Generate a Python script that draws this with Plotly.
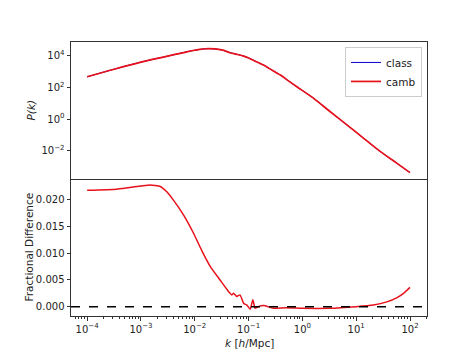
import plotly.graph_objects as go
from plotly.subplots import make_subplots

# ---- data ----
k_pk = [1e-4, 3.16e-4, 1e-3, 3.16e-3, 7.1e-3, 1e-2, 1.78e-2, 3.16e-2, 4.57e-2,
        6.3e-2, 8.1e-2, 0.1, 0.141, 0.19, 0.25, 0.39, 0.56, 0.79, 1.62, 3.3,
        6.8, 13.8, 28.2, 57.5, 100.0]
pk_class = [468, 1413, 3981, 9550, 17800, 22400, 28200, 23400, 15500,
            12000, 9550, 7240, 4170, 2570, 1480, 603, 251, 110, 20.4, 2.88,
            0.417, 0.0603, 0.0087, 0.00158, 0.00041]
pk_camb = list(pk_class)

k_diff = [1e-4, 3.55e-4, 1e-3, 1.48e-3, 2.29e-3, 3.02e-3, 3.98e-3, 6.17e-3,
          9.55e-3, 1.35e-2, 1.95e-2, 2.95e-2, 4.27e-2, 4.90e-2, 5.25e-2,
          6.03e-2, 6.92e-2, 8.13e-2, 9.33e-2, 0.107, 0.120, 0.132, 0.151,
          0.191, 0.288, 0.5, 1.0, 3.16, 10.0, 20.9, 37.2, 57.5, 75.9, 100.0]
frac_diff = [0.0218, 0.0220, 0.0226, 0.0228, 0.0225, 0.0215, 0.0200, 0.0172,
             0.0137, 0.0105, 0.0075, 0.0050, 0.0028, 0.0022, 0.0025,
             0.0019, 0.0022, 0.0006, 0.0003, -0.0005, 0.0013, -0.0003, 0.0,
             0.0002, -0.0003, -0.0002, -0.0003, -0.0003, 0.0, 0.0003, 0.0009,
             0.0017, 0.0025, 0.0036]

x_tickvals = [1e-4, 1e-3, 1e-2, 1e-1, 1e0, 1e1, 1e2]
x_ticktext = ["10<sup>−4</sup>", "10<sup>−3</sup>", "10<sup>−2</sup>", "10<sup>−1</sup>",
              "10<sup>0</sup>", "10<sup>1</sup>", "10<sup>2</sup>"]
y_tickvals = [1e-2, 1e0, 1e2, 1e4]
y_ticktext = ["10<sup>−2</sup>", "10<sup>0</sup>", "10<sup>2</sup>", "10<sup>4</sup>"]
diff_tickvals = [0.0, 0.005, 0.010, 0.015, 0.020]

minor_x = [m * 10.0 ** e for e in range(-5, 3) for m in range(2, 10)]

FONT = "DejaVu Sans"
TXT = "#222222"

fig = make_subplots(rows=2, cols=1, shared_xaxes=True, vertical_spacing=0)

fig.add_trace(go.Scatter(x=k_pk, y=pk_class, mode="lines", name="class",
                         line=dict(color="#0000cc", width=1.0, shape="spline", smoothing=0.9)),
              row=1, col=1)
fig.add_trace(go.Scatter(x=k_pk, y=pk_camb, mode="lines", name="camb",
                         line=dict(color="#e8101a", width=1.7, shape="spline", smoothing=0.9)),
              row=1, col=1)
fig.add_trace(go.Scatter(x=k_diff, y=frac_diff, mode="lines", showlegend=False,
                         line=dict(color="#e8101a", width=1.5, shape="spline", smoothing=0.5)),
              row=2, col=1)

fig.add_shape(type="line", xref="x2 domain", yref="y2", x0=0, x1=1, y0=0, y1=0,
              line=dict(color="black", width=1.5, dash="dash"))

axis_common = dict(showline=True, linecolor="#333333", linewidth=1,
                   showgrid=False, zeroline=False, ticks="outside", ticklen=3.5,
                   tickwidth=1, tickcolor="#333333", automargin=False,
                   tickfont=dict(family=FONT, size=10, color=TXT))

fig.update_xaxes(type="log", range=[-4.30, 2.316], **axis_common)
fig.update_xaxes(row=1, col=1, showticklabels=False, ticks="", mirror=True)
fig.update_xaxes(row=2, col=1, mirror=False, tickvals=x_tickvals, ticktext=x_ticktext,
                 minor=dict(tickvals=minor_x, ticks="outside", ticklen=2,
                            tickwidth=0.8, tickcolor="#333333"))

fig.update_yaxes(row=1, col=1, type="log", range=[-3.79, 4.87], mirror=True,
                 tickvals=y_tickvals, ticktext=y_ticktext, **axis_common)
fig.update_yaxes(row=2, col=1, range=[-0.00175, 0.0239], mirror=True,
                 tickvals=diff_tickvals, tickformat=".3f", **axis_common)

title_font = dict(family=FONT, size=10.5, color=TXT)
fig.add_annotation(text="<i>P(k)</i>", xref="paper", yref="paper", x=0, y=0.75,
                   xanchor="center", yanchor="middle", xshift=-41, textangle=-90,
                   showarrow=False, font=title_font)
fig.add_annotation(text="Fractional Difference", xref="paper", yref="paper", x=0, y=0.25,
                   xanchor="center", yanchor="middle", xshift=-43, textangle=-90,
                   showarrow=False, font=title_font)
fig.add_annotation(text="<i>k</i> [<i>h</i>/Mpc]", xref="paper", yref="paper", x=0.5, y=0,
                   xanchor="center", yanchor="middle", yshift=-27,
                   showarrow=False, font=title_font)

# page body has an 8px default margin, so the figure is sized to fit the window
fig.update_layout(
    width=466, height=347,
    margin=dict(l=63, r=47, t=34, b=39),
    paper_bgcolor="white", plot_bgcolor="white",
    font=dict(family=FONT, size=10, color=TXT),
    legend=dict(x=0.986, y=0.982, xanchor="right", yanchor="top",
                bgcolor="white", bordercolor="#cccccc", borderwidth=1,
                font=dict(family=FONT, size=10.5), tracegroupgap=0,
                itemwidth=30),
)

fig.write_html("out.html")
